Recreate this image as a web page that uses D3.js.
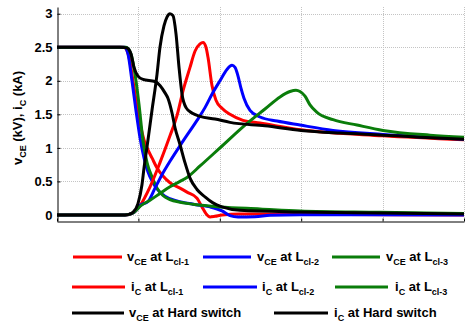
<!DOCTYPE html>
<html>
<head>
<meta charset="utf-8">
<script src="https://cdn.jsdelivr.net/npm/d3@7"></script>
<style>
  body { margin: 0; background: #fff; }
  svg text { font-family: Arial, "Liberation Sans", sans-serif; font-weight: bold; fill: #000; }
</style>
</head>
<body>
<svg id="chart" width="474" height="335"></svg>
<script>
// Turn-on transients: time (µs, arbitrary origin) vs value (kV for vCE, kA for iC)
const vceL1 = [[0,2.5],[0.823,2.5],[0.885,2.35],[0.946,1.9],[1.007,1.45],[1.069,1.12],[1.118,0.97],[1.167,0.85],[1.229,0.7],[1.302,0.58],[1.388,0.48],[1.511,0.4],[1.597,0.34],[1.72,0.25],[1.781,0.12],[1.83,0.02],[1.88,-0.03],[1.941,-0.02],[2.027,0],[2.248,0.015],[3.0,0.01],[5.0,0.0]];
const vceL2 = [[0,2.5],[0.835,2.5],[0.872,2.4],[0.921,2.0],[0.971,1.55],[1.02,1.15],[1.069,0.85],[1.118,0.64],[1.179,0.48],[1.241,0.37],[1.327,0.28],[1.474,0.21],[1.671,0.16],[1.88,0.12],[2.027,0.06],[2.125,-0.01],[2.224,-0.03],[2.432,-0.025],[2.617,-0.005],[2.985,0.005],[5.0,0.0]];
const vceL3 = [[0,2.5],[0.848,2.5],[0.909,2.4],[0.958,2.1],[1.007,1.65],[1.057,1.1],[1.106,0.78],[1.167,0.57],[1.229,0.4],[1.302,0.29],[1.388,0.23],[1.511,0.19],[1.671,0.16],[2.002,0.12],[2.494,0.09],[2.985,0.06],[3.968,0.04],[5.0,0.02]];
const icL1 = [[0,0],[0.835,0],[0.934,0.03],[0.995,0.1],[1.02,0.14],[1.143,0.42],[1.265,0.78],[1.388,1.18],[1.474,1.48],[1.548,1.85],[1.634,2.2],[1.695,2.44],[1.757,2.55],[1.794,2.57],[1.83,2.5],[1.855,2.35],[1.904,1.93],[1.953,1.71],[2.027,1.59],[2.125,1.5],[2.285,1.41],[2.494,1.37],[2.998,1.27],[4.005,1.18],[5.0,1.12]];
const icL2 = [[0,0],[0.835,0],[0.934,0.03],[0.995,0.1],[1.02,0.14],[1.118,0.2],[1.204,0.4],[1.29,0.6],[1.388,0.8],[1.548,1.1],[1.72,1.41],[1.818,1.6],[1.904,1.8],[2.002,2.0],[2.088,2.17],[2.15,2.23],[2.187,2.2],[2.224,2.07],[2.26,1.89],[2.297,1.74],[2.371,1.56],[2.494,1.46],[2.703,1.4],[2.985,1.34],[3.391,1.26],[4.005,1.2],[5.0,1.13]];
const icL3 = [[0,0],[0.835,0],[0.934,0.03],[0.995,0.1],[1.044,0.15],[1.143,0.22],[1.265,0.32],[1.388,0.42],[1.511,0.5],[1.597,0.56],[1.757,0.73],[2.002,1.0],[2.31,1.34],[2.555,1.58],[2.74,1.76],[2.862,1.84],[2.936,1.86],[2.985,1.84],[3.047,1.77],[3.108,1.64],[3.194,1.53],[3.391,1.42],[3.686,1.34],[4.005,1.26],[4.582,1.19],[5.0,1.16]];
const vceHS = [[0,2.5],[0.774,2.5],[0.86,2.49],[0.909,2.4],[0.946,2.2],[0.995,2.07],[1.057,2.02],[1.204,1.99],[1.265,1.93],[1.327,1.82],[1.363,1.74],[1.413,1.52],[1.45,1.3],[1.511,1.05],[1.572,0.78],[1.634,0.55],[1.72,0.38],[1.818,0.27],[1.916,0.18],[2.027,0.12],[2.248,0.07],[2.985,0.045],[3.968,0.03],[5.0,0.015]];
const icHS = [[0,0],[0.835,0],[0.909,0.02],[0.934,0.04],[0.995,0.17],[1.044,0.45],[1.069,0.7],[1.118,1.12],[1.167,1.56],[1.229,2.1],[1.265,2.5],[1.314,2.82],[1.351,2.95],[1.388,3.0],[1.425,2.97],[1.462,2.7],[1.499,2.2],[1.536,1.8],[1.585,1.6],[1.658,1.52],[1.757,1.47],[1.941,1.43],[2.125,1.38],[2.555,1.33],[2.998,1.26],[3.477,1.22],[4.005,1.19],[4.459,1.16],[5.0,1.13]];

const yTicks = [0, 0.5, 1, 1.5, 2, 2.5, 3];
const xTicks = [0, 1, 2, 3, 4, 5];

// Legend entries: [main text, subscript, text, subscript]
const seriesNames = [
  ["v", "CE", " at L", "cl-1"],
  ["v", "CE", " at L", "cl-2"],
  ["v", "CE", " at L", "cl-3"],
  ["i", "C", " at L", "cl-1"],
  ["i", "C", " at L", "cl-2"],
  ["i", "C", " at L", "cl-3"],
  ["v", "CE", " at Hard switch", ""],
  ["i", "C", " at Hard switch", ""]
];
const seriesData = [vceL1, vceL2, vceL3, icL1, icL2, icL3, vceHS, icHS];
const seriesColors = ["#ff0000", "#0000ff", "#0a7d0a", "#ff0000", "#0000ff", "#0a7d0a", "#000000", "#000000"];

const svg = d3.select("#chart");
const plot = { left: 57, right: 464, top: 7, bottom: 221 };

const x = d3.scaleLinear().domain([0, 5]).range([plot.left, plot.right]);
const y = d3.scaleLinear().domain([-0.09, 3.1]).range([plot.bottom, plot.top]);

// dotted grid
const grid = svg.append("g").attr("stroke", "#c4c4c4").attr("stroke-width", 1).attr("stroke-dasharray", "1,1");
grid.selectAll("line.h").data(yTicks).join("line")
  .attr("x1", plot.left).attr("x2", plot.right)
  .attr("y1", d => Math.round(y(d)) + 0.5).attr("y2", d => Math.round(y(d)) + 0.5);
grid.selectAll("line.v").data(xTicks.slice(1)).join("line")
  .attr("y1", plot.top).attr("y2", plot.bottom)
  .attr("x1", d => Math.round(x(d)) + 0.5).attr("x2", d => Math.round(x(d)) + 0.5);

// curves
const line = d3.line().x(d => x(d[0])).y(d => y(d[1])).curve(d3.curveMonotoneX);
svg.append("g").selectAll("path").data(seriesData).join("path")
  .attr("d", line)
  .attr("fill", "none")
  .attr("stroke", (d, i) => seriesColors[i])
  .attr("stroke-width", 3)
  .attr("stroke-linejoin", "round");

// axes
const yAxis = svg.append("g").attr("transform", `translate(${plot.left + 0.5},0)`)
  .call(d3.axisLeft(y).tickValues(yTicks).tickSize(-3).tickSizeOuter(0).tickPadding(5).tickFormat(d => String(d)));
yAxis.selectAll("text").style("font-size", "13px");
yAxis.select(".domain").attr("stroke", "#000");

const xAxis = svg.append("g").attr("transform", `translate(0,${plot.bottom + 0.5})`)
  .call(d3.axisBottom(x).tickValues(xTicks).tickSize(-3).tickSizeOuter(0).tickFormat(""));

// text with subscripts
function addParts(t, parts) {
  const [a, sa, b, sb] = parts;
  t.append("tspan").text(a);
  t.append("tspan").attr("dy", 4).style("font-size", "9px").text(sa);
  t.append("tspan").attr("dy", -4).text(b);
  if (sb) t.append("tspan").attr("dy", 4).style("font-size", "9px").text(sb);
}

// y-axis title
const yTitle = svg.append("text")
  .attr("transform", "translate(22,118) rotate(-90)")
  .attr("text-anchor", "middle")
  .style("font-size", "13px");
yTitle.append("tspan").text("v");
yTitle.append("tspan").attr("dy", 4).style("font-size", "9px").text("CE");
yTitle.append("tspan").attr("dy", -4).text(" (kV), i");
yTitle.append("tspan").attr("dy", 4).style("font-size", "9px").text("C");
yTitle.append("tspan").attr("dy", -4).text(" (kA)");

// legend layout: [line x1, line x2, text x, line y]
const legendLayout = [
  [73, 122, 127, 257], [203, 251, 257, 257], [332, 380, 386, 257],
  [72, 125, 131, 287], [203, 257, 262, 287], [335, 388, 395, 287],
  [72, 124, 129, 313], [274, 328, 334, 313]
];
const legend = svg.append("g");
seriesNames.forEach((parts, i) => {
  const [x1, x2, tx, ly] = legendLayout[i];
  legend.append("line").attr("x1", x1).attr("x2", x2).attr("y1", ly).attr("y2", ly)
    .attr("stroke", seriesColors[i]).attr("stroke-width", 3);
  const t = legend.append("text").attr("x", tx).attr("y", ly + 3.5).style("font-size", "13px");
  addParts(t, parts);
});
</script>
</body>
</html>
